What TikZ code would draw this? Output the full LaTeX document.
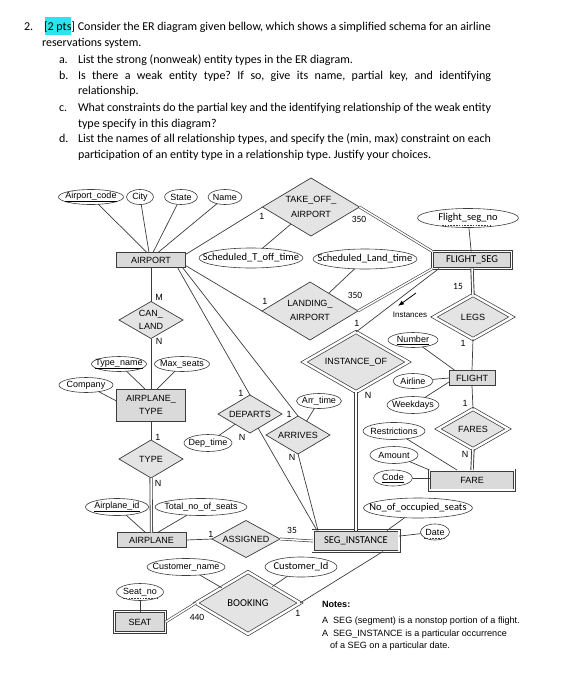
\documentclass[tikz,border=0pt]{standalone}
\usepackage{fontspec}
\setmainfont{Carlito}
\newfontfamily\arialf{Liberation Sans}
\usetikzlibrary{shapes.geometric,arrows.meta}
\definecolor{linec}{RGB}{60,60,60}
\definecolor{entf}{RGB}{218,218,218}
\definecolor{relf}{RGB}{228,228,228}
\definecolor{hl}{RGB}{40,230,240}
\newcommand\zb[1]{\makebox[0pt]{#1}}
\newcommand\zt[1]{\makebox[0pt]{\begin{tabular}{@{}c@{}}#1\end{tabular}}}
\frenchspacing
\begin{document}
\begin{tikzpicture}[x=1pt,y=-1pt,
  every node/.style={inner sep=0pt, outer sep=0pt},
  lab/.style={font=\arialf\fontsize{9}{10.5}\selectfont},
  cal/.style={font=\fontsize{10.5}{12}\selectfont},
  hdr/.style={font=\fontsize{12}{14}\selectfont, anchor=base west},
  attr/.style={ellipse, draw=linec, fill=white, line width=0.6pt, lab},
  ent/.style={rectangle, draw=linec, fill=entf, line width=0.7pt, lab, align=center},
  went/.style={ent, double=white, double distance=1.6pt},
  rel/.style={diamond, draw=linec, fill=relf, line width=0.7pt, lab},
  wrel/.style={rel, double=white, double distance=2.4pt},
  conn/.style={draw=linec, line width=0.7pt},
  tot/.style={draw=linec, double=white, double distance=1.5pt, line width=0.6pt},
  card/.style={lab, font=\arialf\fontsize{9}{10}\selectfont},
  ccard/.style={font=\fontsize{9.5}{11}\selectfont},
  pk/.style={draw=linec, line width=0.5pt, dash pattern=on 1.6pt off 1.2pt},
  note/.style={anchor=base west, font=\arialf\fontsize{9.1}{10}\selectfont}
]
\useasboundingbox (0,0) rectangle (574,686);

% ---------- header text ----------
\fill[hl] (45,17) rectangle (71,35);
\node[hdr] (h0) at (24,30) {2.};
\node[hdr] (h1) at (44,30) {\makebox[447pt][s]{[\mbox{2 pts}] Consider the ER diagram given bellow, which shows a simplified schema for an airline}};
\node[hdr] (h2) at (42,46) {reservations system.};
\node[hdr] (ha) at (59,63) {a.};
\node[hdr] (ha1) at (78,63) {List the strong (nonweak) entity types in the ER diagram.};
\node[hdr] (hb) at (59,79) {b.};
\node[hdr] (hb1) at (78,79) {\makebox[413pt][s]{Is there a weak entity type? If so, give its name, partial key, and identifying}};
\node[hdr] (hb2) at (78,94) {relationship.};
\node[hdr] (hc) at (59,111) {c.};
\node[hdr] (hc1) at (78,111) {\makebox[413pt][s]{What constraints do the partial key and the identifying relationship of the weak entity}};
\node[hdr] (hc2) at (78,127) {type specify in this diagram?};
\node[hdr] (hd) at (59,142) {d.};
\node[hdr] (hd1) at (78,142) {\makebox[413pt][s]{List the names of all relationship types, and specify the (min, max) constraint on each}};
\node[hdr] (hd2) at (78,158) {participation of an entity type in a relationship type. Justify your choices.};

% ---------- relationships ----------
\node[rel, minimum width=97, minimum height=58, font=\arialf\fontsize{9}{15}\selectfont] (toa) at (311,207) {\zt{TAKE\_OFF\_\\AIRPORT}};
\node[rel, minimum width=96, minimum height=58, font=\arialf\fontsize{9}{14}\selectfont] (la) at (310,311) {\zt{LANDING\_\\AIRPORT}};
\node[wrel, minimum width=104, minimum height=60] (io) at (356,362) {\zb{INSTANCE\_OF}};
\node[wrel, minimum width=78, minimum height=44] (legs) at (473,317) {\zb{LEGS}};
\node[wrel, minimum width=70, minimum height=40] (fares) at (473,429) {\zb{FARES}};
\node[rel, minimum width=64, minimum height=38] (arr) at (298,435) {\zb{ARRIVES}};
\node[rel, minimum width=64, minimum height=38] (dep) at (250,414) {\zb{DEPARTS}};
\node[rel, minimum width=64, minimum height=37, font=\arialf\fontsize{9}{13}\selectfont] (canl) at (151,320) {\zt{CAN\_\\LAND}};
\node[rel, minimum width=64, minimum height=38] (type) at (151,459) {\zb{TYPE}};
\node[rel, minimum width=68, minimum height=37] (asg) at (246,539) {\zb{ASSIGNED}};
\node[wrel, cal, minimum width=104, minimum height=62] (book) at (248,603) {\zb{BOOKING}};

% ---------- entities ----------
\node[ent, minimum width=69, minimum height=15] (airport) at (151,260) {AIRPORT};
\node[went, cal, minimum width=79, minimum height=17] (fseg) at (472,260) {FLIGHT\_SEG};
\node[ent, minimum width=46, minimum height=15] (flight) at (472,378) {FLIGHT};
\node[went, minimum width=85, minimum height=20] (fare) at (472,480) {FARE};
\node[went, cal, minimum width=86, minimum height=21] (segi) at (356,541) {SEG\_INSTANCE};
\node[ent, minimum width=69, minimum height=32, font=\arialf\fontsize{9}{13}\selectfont] (aptype) at (151,405) {AIRPLANE\_\\TYPE};
\node[ent, minimum width=69, minimum height=15] (airplane) at (151.5,540) {AIRPLANE};
\node[went, minimum width=51, minimum height=21] (seat) at (140,622) {SEAT};

% ---------- attributes ----------
\node[attr, minimum width=65, minimum height=15] (ac) at (91,197) {\zb{\underline{Airport\_code}}};
\node[attr, minimum width=27, minimum height=15] (city) at (140,197) {\zb{City}};
\node[attr, minimum width=33, minimum height=15] (state) at (181,197) {\zb{State}};
\node[attr, minimum width=34, minimum height=15] (name) at (225,197) {\zb{Name}};
\node[attr, cal, minimum width=101, minimum height=19] (fsn) at (468,218) {\zb{Flight\_seg\_no}};
\node[attr, cal, minimum width=104, minimum height=20] (stt) at (251,258) {\zb{Scheduled\_T\_off\_time}};
\node[attr, cal, minimum width=104, minimum height=20] (slt) at (365,259) {\zb{Scheduled\_Land\_time}};
\node[attr, minimum width=50, minimum height=15] (num) at (413,340) {\zb{\underline{Number}}};
\node[attr, minimum width=40, minimum height=15] (airl) at (413,381) {\zb{Airline}};
\node[attr, minimum width=52, minimum height=17] (wkd) at (413,405) {\zb{Weekdays}};
\node[attr, minimum width=62, minimum height=17] (restr) at (394,431) {\zb{Restrictions}};
\node[attr, minimum width=48, minimum height=17] (amt) at (394,455) {\zb{Amount}};
\node[attr, minimum width=39, minimum height=16] (code) at (393,478) {\zb{\underline{Code}}};
\node[attr, minimum width=45, minimum height=15] (arrt) at (319,401) {\zb{Arr\_time}};
\node[attr, minimum width=48, minimum height=17] (dept) at (208,443) {\zb{Dep\_time}};
\node[attr, minimum width=55, minimum height=15] (tn) at (119,364) {\zb{\underline{Type\_name}}};
\node[attr, minimum width=55, minimum height=15] (ms) at (182,364) {\zb{Max\_seats}};
\node[attr, minimum width=54, minimum height=15] (comp) at (86,385) {\zb{Company}};
\node[attr, minimum width=63, minimum height=17] (aid) at (117,507) {\zb{\underline{Airplane\_id}}};
\node[attr, minimum width=92, minimum height=17] (tns) at (201,507) {\zb{Total\_no\_of\_seats}};
\node[attr, cal, minimum width=109, minimum height=20] (noc) at (418,508) {\zb{No\_of\_occupied\_seats}};
\node[attr, minimum width=29, minimum height=16] (date) at (435,532) {\zb{Date}};
\node[attr, cal, minimum width=72, minimum height=20] (cid) at (301,567) {\zb{Customer\_Id}};
\node[attr, minimum width=78, minimum height=17] (cn) at (186,567) {\zb{Customer\_name}};
\node[attr, minimum width=47, minimum height=17] (sn) at (140,592) {\zb{Seat\_no}};

% partial-key dashed underlines
\draw[pk] ([shift={(-26,7)}]fsn.center) -- ([shift={(22,7)}]fsn.center);
\draw[pk] ([shift={(-11,6)}]date.center) -- ([shift={(11,6)}]date.center);
\draw[pk] ([shift={(-17,6)}]sn.center) -- ([shift={(17,6)}]sn.center);

% ---------- connectors ----------
\draw[conn] (ac) -- ([xshift=-4]airport.north);
\draw[conn] (city) -- ([xshift=-2]airport.north);
\draw[conn] (state) -- ([xshift=2]airport.north);
\draw[conn] (name) -- ([xshift=7]airport.north);
\draw[conn] ([yshift=-2]airport.north east) -- (toa.west);
\draw[conn] ([yshift=2]airport.south east) -- (la.west);
\draw[conn] ([xshift=-8]airport.south east) -- (dep.north);
\draw[conn] ([xshift=-3]airport.south east) -- (arr.north);
\draw[conn] (stt) -- (toa);
\draw[conn] (slt) -- (la);
\draw[tot] (toa.east) -- (fseg.north west);
\draw[tot] (la.east) -- (fseg.south west);
\draw[conn] (fsn) -- (fseg);
\draw[tot, line width=0.9pt] (fseg.south) -- (legs.north);
\draw[conn] ([xshift=-33]fseg.south) -- (io.north);
\draw[conn] (legs.south) -- (flight.north);
\draw[conn] (num) -- ([xshift=-17]flight.north);
\draw[conn] (airl) -- (flight.west);
\draw[conn] (wkd) -- ([yshift=-4]flight.west);
\draw[conn] (flight.south) -- (fares.north);
\draw[tot, line width=0.9pt] (fares.south) -- (fare.north);
\draw[conn] (restr) -- ([xshift=-15]fare.north);
\draw[conn] (amt) -- (fare.north west);
\draw[conn] (code) -- (code -| fare.west);
\draw[tot, line width=0.8pt] (io.south) -- (segi.north);
\draw[conn] (arrt) -- (arr);
\draw[conn] (dept) -- (dep);
\draw[conn] (dep) -- ([xshift=4]segi.north west);
\draw[conn] (arr.south) -- ([xshift=5]segi.north west);
\draw[conn] (noc) -- ([xshift=31]segi.north);
\draw[conn] (segi) -- (date);
\draw[conn] ([xshift=27]segi.south) -- (book.east);
\draw[conn] (cid) -- (book);
\draw[conn] (cn) -- (book);
\draw[conn] (sn) -- (seat);
\draw[tot] (seat.east) -- (book.west);
\draw[conn] (airplane.east) -- (asg.west);
\draw[tot] (asg.east) -- (segi.west);
\draw[conn] (aid) -- ([xshift=-6]airplane.north);
\draw[conn] (tns) -- ([xshift=6]airplane.north);
\draw[tot, line width=0.8pt] (type.south) -- (airplane.north);
\draw[conn] (aptype.south) -- (type.north);
\draw[conn] (canl.south) -- (aptype.north);
\draw[conn] (airport.south) -- (canl.north);
\draw[conn] (tn) -- ([xshift=-6]aptype.north);
\draw[conn] (ms) -- ([xshift=6]aptype.north);
\draw[conn] (comp) -- ([yshift=4]aptype.west);

% instances arrow
\coordinate (ia1) at (416,293);
\coordinate (ia2) at (398,306);
\draw[draw=black, line width=0.8pt, -{Latex[length=6pt,width=4.5pt]}] (ia1) -- (ia2);
\node[card, font=\arialf\fontsize{8}{9}\selectfont] (inst) at (410,315) {Instances};

% ---------- cardinalities ----------
\node[card] (c1) at (262,216) {1};
\node[ccard] (c2) at (359,219) {350};
\node[card] (c3) at (265,301) {1};
\node[ccard] (c4) at (355,295) {350};
\node[ccard] (c5) at (458,286) {15};
\node[card] (c6) at (357,323) {1};
\node[card] (c7) at (463,343) {1};
\node[card] (c8) at (368,395) {N};
\node[card] (c9) at (465,403) {1};
\node[card] (c10) at (465,454) {N};
\node[card] (c11) at (159,297) {M};
\node[card] (c12) at (159,341) {N};
\node[card] (c13) at (158,437) {1};
\node[card] (c14) at (158,483) {N};
\node[card] (c15) at (241,393) {1};
\node[card] (c16) at (242,437) {N};
\node[card] (c17) at (289,414) {1};
\node[card] (c18) at (292,457) {N};
\node[card] (c19) at (211,534) {1};
\node[ccard] (c20) at (292,530) {35};
\node[card] (c21) at (298,613) {1};
\node[ccard] (c22) at (197,617) {440};

% ---------- notes ----------
\node[note, font=\arialf\bfseries\fontsize{9.1}{10}\selectfont] (n0) at (322,607) {Notes:};
\node[note] (n1) at (322,623) {A\ \ SEG (segment) is a nonstop portion of a flight.};
\node[note] (n2) at (322,636) {A\ \ SEG\_INSTANCE is a particular occurrence};
\node[note] (n3) at (330,648) {of a SEG on a particular date.};
\end{tikzpicture}
\end{document}
